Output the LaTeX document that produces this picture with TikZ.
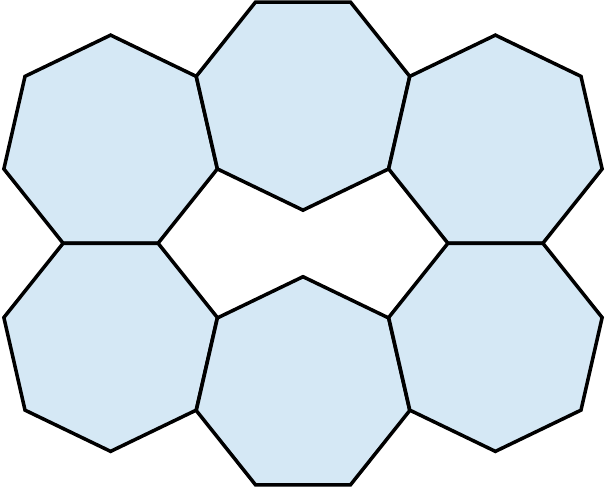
\documentclass[tikz,border=0pt]{standalone}
\usetikzlibrary{shapes.geometric}

\definecolor{cellblue}{HTML}{D5E8F5}

\begin{document}
\begin{tikzpicture}[x=0.02cm,y=-0.02cm,hepta/.style={draw,fill=cellblue,line width=2pt,line join=miter,regular polygon,regular polygon sides=7,minimum size=4.38cm,inner sep=0pt,outer sep=0pt},flat top/.style={shape border rotate=180}]
  \useasboundingbox (0,0) rectangle (606,489);
  \node[hepta] (topleft) at (110.6,144.6) {};
  \node[hepta,flat top] (botleft) at (110.6,341.9) {};
  \node[hepta,flat top] (topmid) at (303,100.7) {};
  \node[hepta] (botmid) at (303,386.2) {};
  \node[hepta] (topright) at (495.4,144.6) {};
  \node[hepta,flat top] (botright) at (495.4,341.9) {};
\end{tikzpicture}
\end{document}
